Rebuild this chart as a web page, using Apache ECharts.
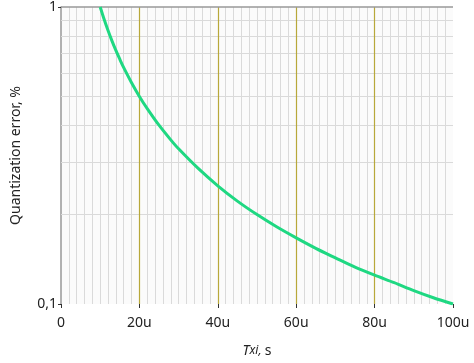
<!DOCTYPE html>
<html><head><meta charset="utf-8">
<script src="https://cdn.jsdelivr.net/npm/echarts@6/dist/echarts.min.js"></script>
<style>html,body{margin:0;padding:0;background:#fff}#c{width:474px;height:363px}</style>
</head><body><div id="c"></div>
<script>
var txi = [10,11,12,13,14,15,16,18,20,22,25,28,30,35,40,45,50,55,60,65,70,75,80,85,90,95,100];
var quantErr = [1,0.909,0.833,0.769,0.714,0.667,0.625,0.556,0.5,0.455,0.4,0.357,0.333,0.286,0.25,0.222,0.2,0.182,0.167,0.154,0.143,0.133,0.125,0.118,0.111,0.105,0.1];
var yMinorLines = [0.2,0.3,0.4,0.5,0.6,0.7,0.8,0.9];
var yTopLine = [1];
var xMajorLines = [20,40,60,80];
var xTickLabels = {0:'0',20:'20u',40:'40u',60:'60u',80:'80u',100:'100u'};

var font = 'Noto Sans';
var chart = echarts.init(document.getElementById('c'));
var data = txi.map(function(x,i){return [x, quantErr[i]];});
var mlData = yMinorLines.map(function(v){return {yAxis:v, lineStyle:{color:'#dadada',width:1,type:'solid'}};})
  .concat(xMajorLines.map(function(v){return {xAxis:v, lineStyle:{color:'#b8a83a',width:1.2,type:'solid'}};}))
  .concat(yTopLine.map(function(v){return {yAxis:v, lineStyle:{color:'#999',width:1.5,type:'solid'}};}));
chart.setOption({
  animation:false,
  grid:{left:61,right:21,top:6,bottom:57,show:true,backgroundColor:'#fbfbfb',borderWidth:0},
  xAxis:{
    type:'value',min:0,max:100,interval:20,
    axisLine:{show:false},
    axisTick:{show:true,length:4,lineStyle:{color:'#333'}},
    axisLabel:{fontFamily:font,fontSize:14,color:'#222',margin:12,formatter:function(v){return xTickLabels[v];}},
    splitLine:{show:false},
    minorTick:{show:false,splitNumber:10},
    minorSplitLine:{show:true,lineStyle:{color:'#dadada',width:1}},
    name:'{t|T}{s|xi,} {n|s}',nameLocation:'middle',nameGap:40,
    nameTextStyle:{rich:{
      t:{fontFamily:font,fontStyle:'italic',fontSize:14,color:'#222'},
      s:{fontFamily:font,fontStyle:'italic',fontSize:12,color:'#222'},
      n:{fontFamily:font,fontSize:14,color:'#222'}}}
  },
  yAxis:{
    type:'log',logBase:10,min:0.1,max:1,
    axisLine:{show:true,lineStyle:{color:'#999',width:1.5}},
    axisTick:{show:true,length:3,lineStyle:{color:'#333'}},
    axisLabel:{fontFamily:font,fontSize:14,color:'#222',margin:4,formatter:function(v){return v>=1?'1':'0,1';}},
    splitLine:{show:false},
    name:'Quantization error, %',nameLocation:'middle',nameGap:38,
    nameTextStyle:{fontFamily:font,fontSize:14,color:'#222'}
  },
  series:[{
    type:'line',data:data,smooth:0.3,showSymbol:false,
    lineStyle:{color:'#1fd882',width:3},
    z:5,
    markLine:{silent:true,symbol:['none','none'],label:{show:false},z:1,data:mlData}
  }]
});
</script></body></html>
